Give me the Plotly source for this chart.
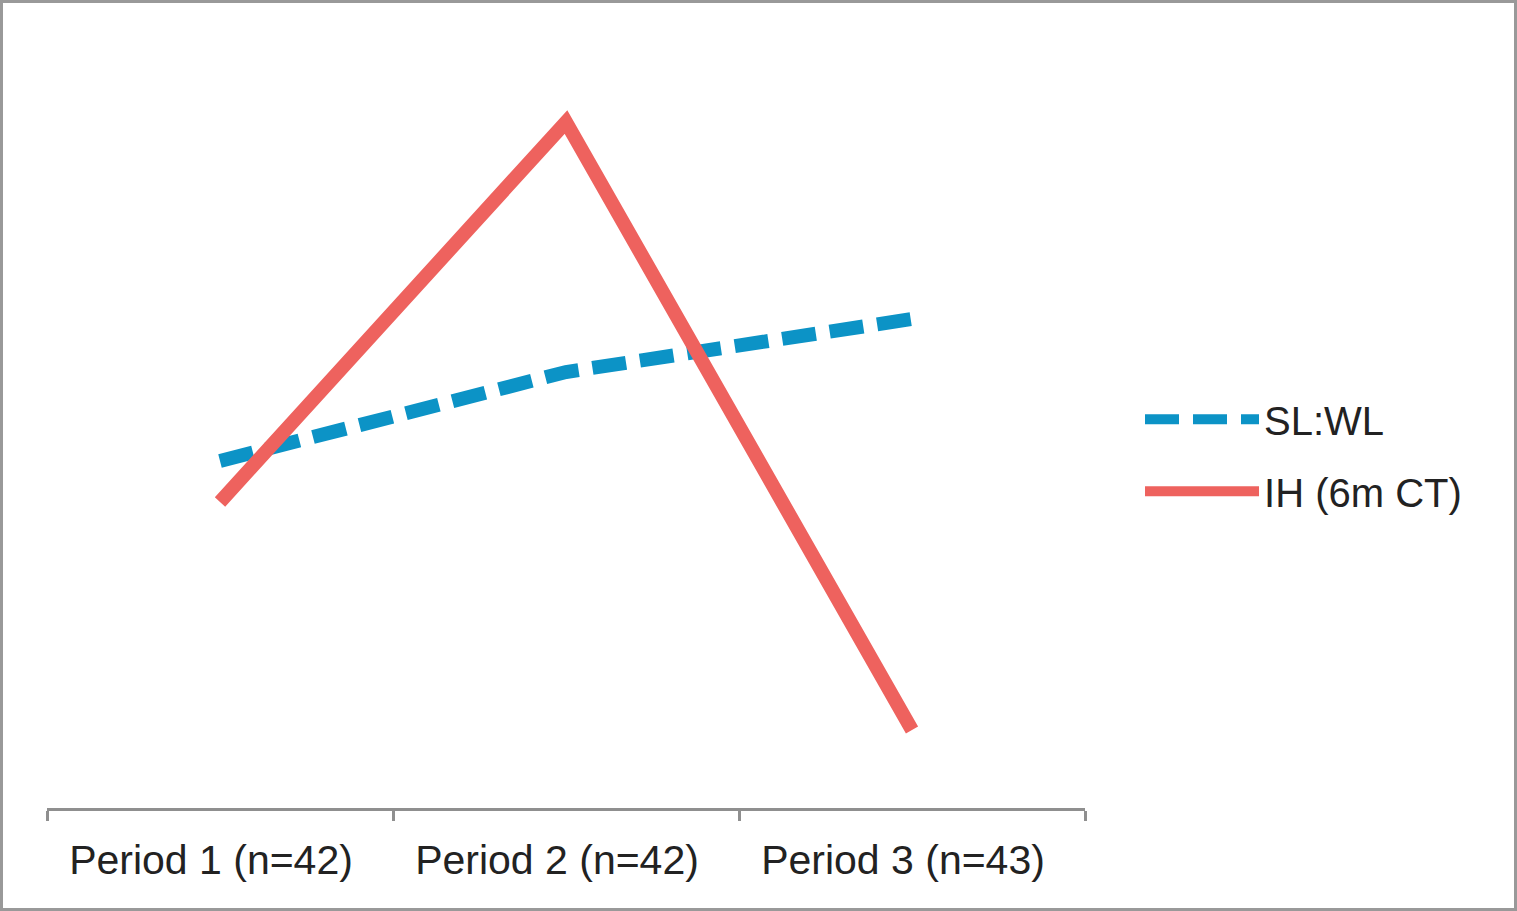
import plotly.graph_objects as go

categories = ["Period 1 (n=42)", "Period 2 (n=42)", "Period 3 (n=43)"]
sl_wl = [3.47, 4.36, 4.89]
ih_6m_ct = [3.06, 6.86, 0.78]

W, H = 1517, 911
ML, MR, MT, MB = 47, 432, 8, 103

fig = go.Figure()
fig.add_trace(go.Scatter(
    x=categories, y=sl_wl, mode="lines", name="SL:WL",
    line=dict(color="#0C93C6", width=14, dash="34px,14px"),
    legendgroup="a",
))
fig.add_trace(go.Scatter(
    x=categories, y=ih_6m_ct, mode="lines", name="IH (6m CT)",
    line=dict(color="#EE625E", width=14),
    legendgroup="b",
))

pw = W - ML - MR
ph = H - MT - MB
fig.add_shape(type="rect", xref="paper", yref="paper",
              x0=(1.5 - ML) / pw, x1=(W - 1.5 - ML) / pw,
              y0=-(MB - 1.5) / ph, y1=(ph + MT - 1.5) / ph,
              line=dict(color="#999999", width=3), layer="below")

fig.update_layout(
    width=W, height=H,
    margin=dict(l=ML, r=MR, t=MT, b=MB, pad=0, autoexpand=False),
    paper_bgcolor="white", plot_bgcolor="white",
    font=dict(family="Liberation Sans, Arial, sans-serif", size=40, color="#222222"),
    showlegend=True,
    legend=dict(x=1.053, y=0.441, xanchor="left", yanchor="middle",
                traceorder="grouped", tracegroupgap=17,
                itemwidth=114, font=dict(size=40, color="#222222"),
                bgcolor="rgba(0,0,0,0)"),
    xaxis=dict(type="category", range=[-0.5, 2.5], automargin=False,
               tickson="boundaries", ticks="outside",
               ticklen=10, tickwidth=3, tickcolor="#8F8F8F",
               showline=True, linecolor="#8F8F8F", linewidth=3,
               showgrid=False, zeroline=False, ticklabelstandoff=14,
               ticklabelshift=-9,
               tickfont=dict(size=41, color="#222222")),
    yaxis=dict(range=[0, 8], visible=False, showgrid=False, zeroline=False,
               automargin=False),
)

fig.write_html("out.html", config={"displayModeBar": False},
               post_script="document.body.style.margin='0';document.body.style.overflow='hidden';")
